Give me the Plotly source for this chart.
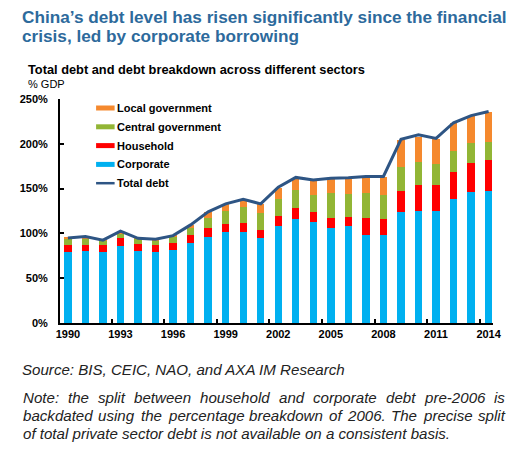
import plotly.graph_objects as go

# ---------------- data ----------------
years = list(range(1990, 2015))
corporate = [79, 80, 79, 86.5, 80, 79, 81.5, 89, 96, 101.5, 102, 94.5, 108.5, 116.5, 113,
             106.5, 108, 98, 98, 123.5, 125.5, 125.5, 138.5, 146, 147.5]
household = [8, 7.5, 8, 8, 8, 8, 8, 9, 9.5, 9.5, 10, 9.5, 10.5, 12, 11,
             10.5, 10.5, 19.5, 18.5, 24, 28, 28.5, 30.5, 33, 34]
central_gov = [7, 6, 5, 5, 6, 5.5, 7, 7.5, 12, 14, 17.5, 18.5, 19.5, 19.5, 18.5,
               28, 25.5, 27.5, 26.5, 26.5, 26, 23.5, 23.5, 21.5, 21]
local_gov = [1, 2.5, 0.5, 2.5, 0.5, 1, 1, 4, 6.5, 7.5, 8, 10, 12.5, 13, 16.5,
             16.5, 17.5, 18, 19.5, 30.5, 28, 27.5, 30.5, 30, 33]
total_debt = [95, 96.5, 92.5, 102.5, 94.5, 93.5, 97.5, 109.5, 124, 133, 138, 133, 151.5, 162.5, 159.5,
              161.5, 162, 163.5, 163.5, 205, 210, 206, 223.5, 231.5, 236]

x_tick_years = [1990, 1993, 1996, 1999, 2002, 2005, 2008, 2011, 2014]
y_ticks = [0, 50, 100, 150, 200, 250]
y_tick_labels = ["0%", "50%", "100%", "150%", "200%", "250%"]

series_names = ["Corporate", "Household", "Central government", "Local government"]
series_values = [corporate, household, central_gov, local_gov]

# ---------------- styles ----------------
FONT = "Liberation Sans, Arial, sans-serif"
C_CORP = "#00B0F0"
C_HH = "#FF0000"
C_CG = "#92B535"
C_LG = "#F5892E"
C_LINE = "#2E5584"
C_TITLE = "#2D6A9C"
colors = [C_CORP, C_HH, C_CG, C_LG]

OFFX, OFFY = 8, 8  # page offset of the figure
W, H = 520, 450 - 2 * OFFY
ML, MR, MT, MB = 49 - OFFX, W - (493 - OFFX), 99 - OFFY, H - (323 - OFFY)
PW = W - ML - MR
PH = H - MT - MB


def px2x(px):
    return (px - OFFX - ML) / PW


def py2y(py):
    return (H - MB - (py - OFFY)) / PH


fig = go.Figure()
for name, vals, col in zip(series_names, series_values, colors):
    fig.add_trace(go.Bar(x=years, y=vals, name=name, marker_color=col,
                         marker_line_width=0, width=0.42, showlegend=False))
fig.add_trace(go.Scatter(x=years, y=total_debt, name="Total debt", mode="lines",
                         line=dict(color=C_LINE, width=3), showlegend=False))

# ---------------- text ----------------
ann = []


def text(px, py, s, size, color="black", bold=False, italic=False):
    if bold:
        s = "<b>" + s + "</b>"
    if italic:
        s = "<i>" + s + "</i>"
    ann.append(dict(x=px2x(px), y=py2y(py), xref="paper", yref="paper", text=s,
                    showarrow=False, xanchor="left", yanchor="middle", align="left",
                    font=dict(family=FONT, size=size, color=color), borderpad=0))


text(9, 16.8, "China’s debt level has risen significantly since the financial", 17.2, C_TITLE, bold=True)
text(9, 36.4, "crisis, led by corporate borrowing", 17.2, C_TITLE, bold=True)
text(15, 69.5, "Total debt and debt breakdown across different sectors", 12.8, bold=True)
text(15, 84, "% GDP", 11)
text(9, 369.5, "Source: BIS, CEIC, NAO, and AXA IM Research", 15.1, "#222222", italic=True)

# Arial / Liberation Sans advance widths (per 1000 em)
AW = {" ": 278, "a": 556, "b": 556, "c": 500, "d": 556, "e": 556, "f": 278, "g": 556,
      "h": 556, "i": 222, "j": 222, "k": 500, "l": 222, "m": 833, "n": 556, "o": 556,
      "p": 556, "q": 556, "r": 333, "s": 500, "t": 278, "u": 556, "v": 500, "w": 722,
      "x": 500, "y": 500, "z": 500, ":": 278, ".": 278, ",": 278, "-": 333,
      "0": 556, "1": 556, "2": 556, "6": 556, "N": 722, "T": 611}


def tw(s, size):
    return sum(AW.get(ch, 556) for ch in s) * size / 1000.0


note_lines = [
    "Note: the split between household and corporate debt pre-2006 is",
    "backdated using the percentage breakdown of 2006. The precise split",
    "of total private sector debt is not available on a consistent basis.",
]
note_y = [397.5, 415.5, 433]
NOTE_SIZE = 15.1
X0, X1 = 10, 504
for i, (line, ly) in enumerate(zip(note_lines, note_y)):
    if i < 2:
        words = line.split(" ")
        total_w = sum(tw(w, NOTE_SIZE) * 1.02 for w in words)
        gap = (X1 - X0 - total_w) / (len(words) - 1)
        cx = X0
        for w in words:
            text(cx, ly, w, NOTE_SIZE, "#222222", italic=True)
            cx += tw(w, NOTE_SIZE) * 1.02 + gap
    else:
        text(X0, ly, line, NOTE_SIZE, "#222222", italic=True)

# ---------------- custom legend ----------------
shapes = []
legend_items = [("Local government", C_LG), ("Central government", C_CG),
                ("Household", C_HH), ("Corporate", C_CORP)]
leg_y = [108, 126.8, 145.6, 164.4, 183.2]
for (lab, col), ly in zip(legend_items, leg_y):
    shapes.append(dict(type="rect", xref="paper", yref="paper",
                       x0=px2x(86), x1=px2x(105), y0=py2y(ly + 2.5), y1=py2y(ly - 2.5),
                       fillcolor=col, line_width=0))
    text(106, ly, lab, 11, bold=True)
shapes.append(dict(type="line", xref="paper", yref="paper",
                   x0=px2x(86), x1=px2x(105), y0=py2y(leg_y[4]), y1=py2y(leg_y[4]),
                   line=dict(color=C_LINE, width=2.5)))
text(106, leg_y[4], "Total debt", 11, bold=True)

fig.update_layout(
    width=W, height=H,
    margin=dict(l=ML, r=MR, t=MT, b=MB),
    paper_bgcolor="white", plot_bgcolor="white",
    barmode="stack", showlegend=False,
    font=dict(family=FONT, size=11, color="black"),
    annotations=ann, shapes=shapes,
    xaxis=dict(range=[1989.55, 2014.25], tickmode="array", tickvals=x_tick_years,
               ticktext=["<b>%d</b>" % y for y in x_tick_years],
               ticks="", showgrid=False, zeroline=False,
               showline=True, linecolor="black", linewidth=2,
               tickfont=dict(size=11, family=FONT, color="black"),
               minor=dict(tickvals=[y + 2.5 for y in x_tick_years[:-1]],
                          ticks="inside", ticklen=4, tickwidth=2, tickcolor="black")),
    yaxis=dict(range=[0, 250], tickmode="array", tickvals=y_ticks,
               ticktext=["<b>%s</b>" % t for t in y_tick_labels],
               ticks="inside", ticklen=4, tickwidth=2, tickcolor="black",
               showgrid=False, zeroline=False,
               showline=True, linecolor="black", linewidth=2,
               ticklabelstandoff=8,
               tickfont=dict(size=11, family=FONT, color="black")),
)

fig.write_html("out.html")
